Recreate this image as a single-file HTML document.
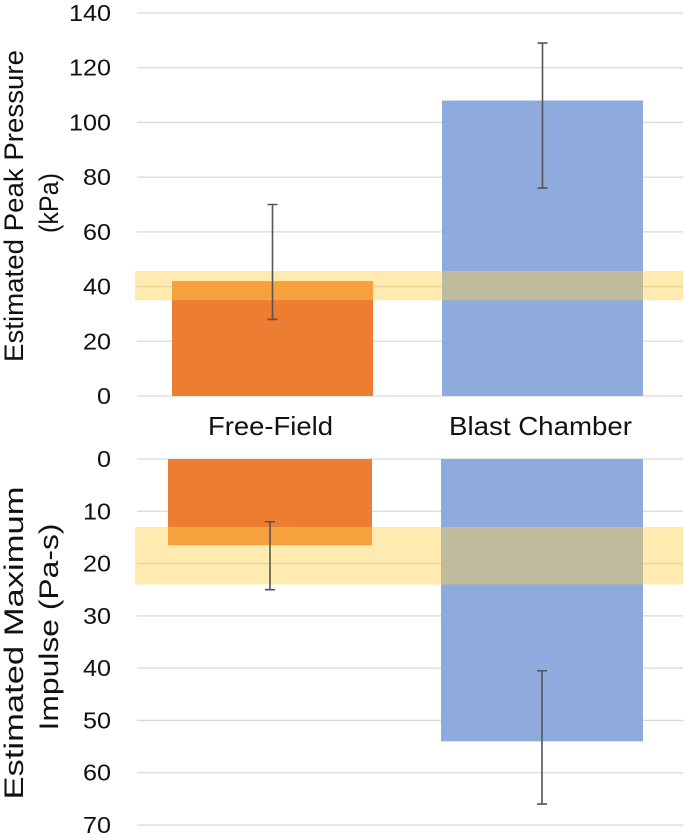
<!DOCTYPE html>
<html><head><meta charset="utf-8"><style>
body{margin:0;background:#fff}
svg{display:block;font-family:"Liberation Sans",sans-serif}
</style></head><body>
<svg id="c" width="685" height="835"></svg>
<script>
const categories=["Free-Field","Blast Chamber"];
const pressure=[42,108];
const pressureLow=[28,76];
const pressureHigh=[70,129];
const pressureBand=[35,45.7];
const pressureTicks=[0,20,40,60,80,100,120,140];
const impulse=[16.5,54];
const impulseLow=[12,40.5];
const impulseHigh=[25,66];
const impulseBand=[13,24];
const impulseTicks=[0,10,20,30,40,50,60,70];
const colors=["#ED7D31","#8FAADC"];
const svg=document.getElementById('c');
const NS='http://www.w3.org/2000/svg';
function mk(t,a,txt){const e=document.createElementNS(NS,t);for(const k in a)e.setAttribute(k,a[k]);if(txt!==undefined)e.textContent=txt;svg.appendChild(e);return e;}
const yTop=v=>396-v*(396-13)/140;
const yBot=v=>459+v*(825-459)/70;
const barX=[[172,373],[442,643]];
const barXb=[[168,372],[441,643]];
function panel(y,ticks,vals,lo,hi,band,bx,pref){
  ticks.forEach(t=>{
    const l=mk('line',{x1:137,x2:683,y1:y(t),y2:y(t),stroke:'#d9d9d9','stroke-width':1.3});
    
    const s=String(t);
    const tx=mk('text',{x:111,y:y(t)+8,'text-anchor':'end','font-size':23,fill:'#111',textLength:14*s.length,lengthAdjust:'spacingAndGlyphs'},s);
    
  });
  vals.forEach((v,i)=>{
    const a=y(0),b=y(v);
    const r=mk('rect',{x:bx[i][0],y:Math.min(a,b),width:bx[i][1]-bx[i][0],height:Math.abs(b-a),fill:colors[i]});
    
  });
  const b0=y(band[0]),b1=y(band[1]);
  const br=mk('rect',{x:135,y:Math.min(b0,b1),width:548,height:Math.abs(b1-b0),fill:'rgba(255,208,80,0.45)'});
  
  vals.forEach((v,i)=>{
    const cx=(bx[i][0]+bx[i][1])/2;
    const g=mk('path',{d:`M${cx} ${y(lo[i])}V${y(hi[i])}M${cx-5} ${y(lo[i])}h10M${cx-5} ${y(hi[i])}h10`,stroke:'#555','stroke-width':1.6,fill:'none'});
    
  });
}
panel(yTop,pressureTicks,pressure,pressureLow,pressureHigh,pressureBand,barX,'pressure');
panel(yBot,impulseTicks,impulse,impulseLow,impulseHigh,impulseBand,barXb,'impulse');
const catW=[125,183];
categories.forEach((c,i)=>{
  const t=mk('text',{x:(barX[i][0]+barX[i][1])/2-2,y:435,'text-anchor':'middle','font-size':26,fill:'#111',textLength:catW[i],lengthAdjust:'spacingAndGlyphs'},c);
  
});
function ytitle(lines,cys,lens,name){
  lines.forEach((s,k)=>{
    const x=[23,58][k],cy=cys[k];
    const t=mk('text',{x:x,y:cy,transform:`rotate(-90 ${x} ${cy})`,'text-anchor':'middle','font-size':27,fill:'#111',textLength:lens[k],lengthAdjust:'spacingAndGlyphs'},s);
    
  });
}
ytitle(["Estimated Peak Pressure","(kPa)"],[206,203],[312,60],'pressure-axis-title');
ytitle(["Estimated Maximum","Impulse (Pa-s)"],[643,627],[313,207],'impulse-axis-title');
</script>
</body></html>
